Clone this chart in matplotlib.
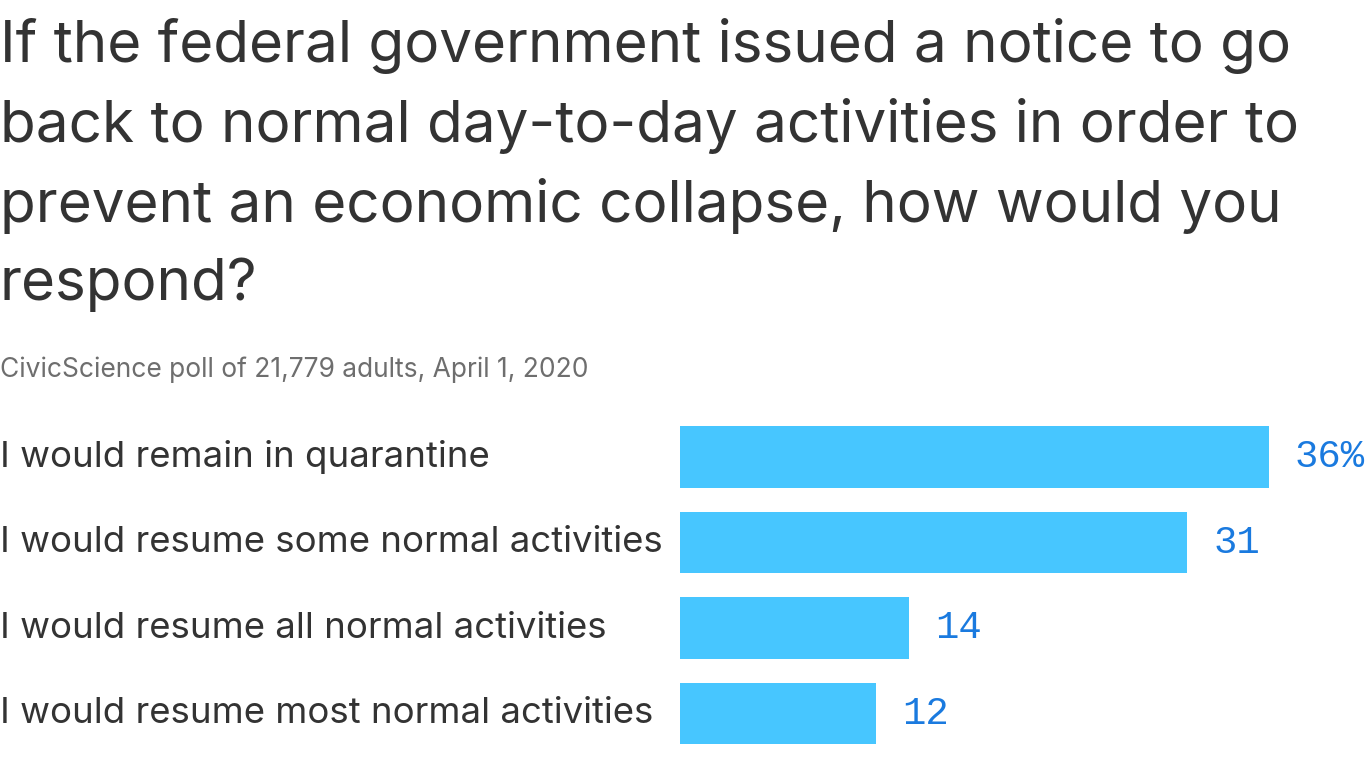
import matplotlib
matplotlib.use("Agg")
import matplotlib.pyplot as plt

# data
answers = [
    "I would remain in quarantine",
    "I would resume some normal activities",
    "I would resume all normal activities",
    "I would resume most normal activities",
]
shares = [36, 31, 14, 12]
value_labels = ["36%", "31", "14", "12"]

title = ("If the federal government issued a notice to go\n"
         "back to normal day-to-day activities in order to\n"
         "prevent an economic collapse, how would you\n"
         "respond?")
subtitle = "CivicScience poll of 21,779 adults, April 1, 2020"

bar_color = "#47C6FF"
value_color = "#1A7ADF"
text_color = "#333333"

fig = plt.figure(figsize=(13.66, 7.68), dpi=100)
fig.patch.set_facecolor("white")

fig.text(0.0, 1 - 18 / 768, title, fontsize=42, family="Inter", color=text_color,
         va="top", ha="left", linespacing=1.55)
fig.text(0.0, 1 - 370 / 768, subtitle, fontsize=19, family="Inter", color="#6e6e6e",
         va="center", ha="left")

ax = fig.add_axes([680 / 1366, 11.7 / 768, 686 / 1366, 342 / 768])
ypos = list(range(len(shares)))
ax.barh(ypos, shares, height=0.72, color=bar_color)
ax.set_xlim(0, 686 / 16.36)
ax.set_ylim(len(shares) - 0.5, -0.5)
ax.axis("off")

for y, v, lab in zip(ypos, shares, value_labels):
    ax.annotate(lab, (v, y), xytext=(26, 0), textcoords="offset pixels",
                va="center", ha="left", fontsize=28, family="Liberation Mono",
                color=value_color, annotation_clip=False)

for y, a in zip(ypos, answers):
    ax.text(-680 / 16.36, y, a, fontsize=26.3, family="Inter", color=text_color,
            va="center", ha="left")

fig.savefig("out.png", dpi=100)
